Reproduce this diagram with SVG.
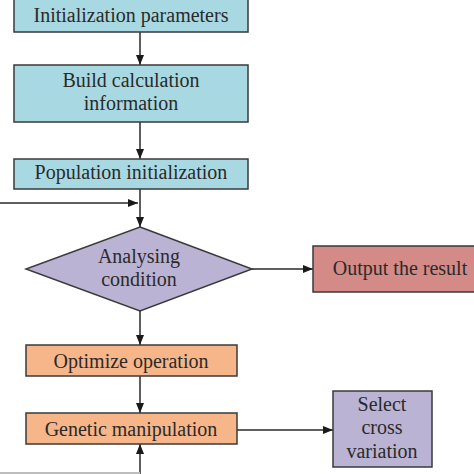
<svg xmlns="http://www.w3.org/2000/svg" width="474" height="474" viewBox="0 0 474 474">
<style>
text{font-family:"Liberation Serif","Times New Roman",serif;font-size:20px;fill:#2a2a2a;text-anchor:middle}
.b{fill:#a8d9e2;stroke:#3a3a3a;stroke-width:1.5}
.o{fill:#f7b68a;stroke:#3a3a3a;stroke-width:1.5}
.p{fill:#bab3d3;stroke:#3a3a3a;stroke-width:1.5}
.r{fill:#d48b88;stroke:#3a3a3a;stroke-width:1.5}
.c{stroke:#2a2a2a;stroke-width:1.5;fill:none}
</style>
<defs>
<marker id="ah" viewBox="0 0 10 8" refX="10" refY="4" markerWidth="10" markerHeight="8" markerUnits="userSpaceOnUse" orient="auto">
<path d="M0,0 L10,4 L0,8 Z" fill="#1a1a1a"/>
</marker>
</defs>
<rect width="474" height="474" fill="#ffffff"/>
<g id="connectors">
<line class="c" x1="140" y1="32" x2="140" y2="65" marker-end="url(#ah)"/>
<line class="c" x1="140" y1="122" x2="140" y2="159" marker-end="url(#ah)"/>
<line class="c" x1="140" y1="189" x2="140" y2="227" marker-end="url(#ah)"/>
<line class="c" x1="0" y1="203" x2="138" y2="203" marker-end="url(#ah)"/>
<line class="c" x1="252" y1="269" x2="313" y2="269" marker-end="url(#ah)"/>
<line class="c" x1="140" y1="311" x2="140" y2="345" marker-end="url(#ah)"/>
<line class="c" x1="140" y1="376" x2="140" y2="413" marker-end="url(#ah)"/>
<line class="c" x1="237" y1="430" x2="333" y2="430" marker-end="url(#ah)"/>
<line class="c" x1="140" y1="474" x2="140" y2="444" marker-end="url(#ah)"/>
<line x1="0" y1="473" x2="140" y2="473" stroke="#bdbdbd" stroke-width="2"/>
</g>
<g id="init">
<rect class="b" x="14" y="-2" width="234" height="34"/>
<text x="131" y="22">Initialization parameters</text>
</g>
<g id="build">
<rect class="b" x="14" y="65" width="234" height="57"/>
<text x="131" y="87">Build calculation</text>
<text x="131" y="110">information</text>
</g>
<g id="population">
<rect class="b" x="14" y="159" width="234" height="30"/>
<text x="131" y="179">Population initialization</text>
</g>
<g id="analysing">
<polygon class="p" points="140,227 252,269 140,311 26,269"/>
<text x="139" y="263">Analysing</text>
<text x="139" y="286">condition</text>
</g>
<g id="output">
<rect class="r" x="313" y="246" width="163" height="46"/>
<text x="400" y="275">Output the result</text>
</g>
<g id="optimize">
<rect class="o" x="26" y="345" width="211" height="31"/>
<text x="131" y="368">Optimize operation</text>
</g>
<g id="genetic">
<rect class="o" x="26" y="413" width="211" height="31"/>
<text x="131" y="436">Genetic manipulation</text>
</g>
<g id="select">
<rect class="p" x="333" y="391" width="99" height="76"/>
<text x="382" y="411">Select</text>
<text x="382" y="434">cross</text>
<text x="382" y="458">variation</text>
</g>
</svg>
